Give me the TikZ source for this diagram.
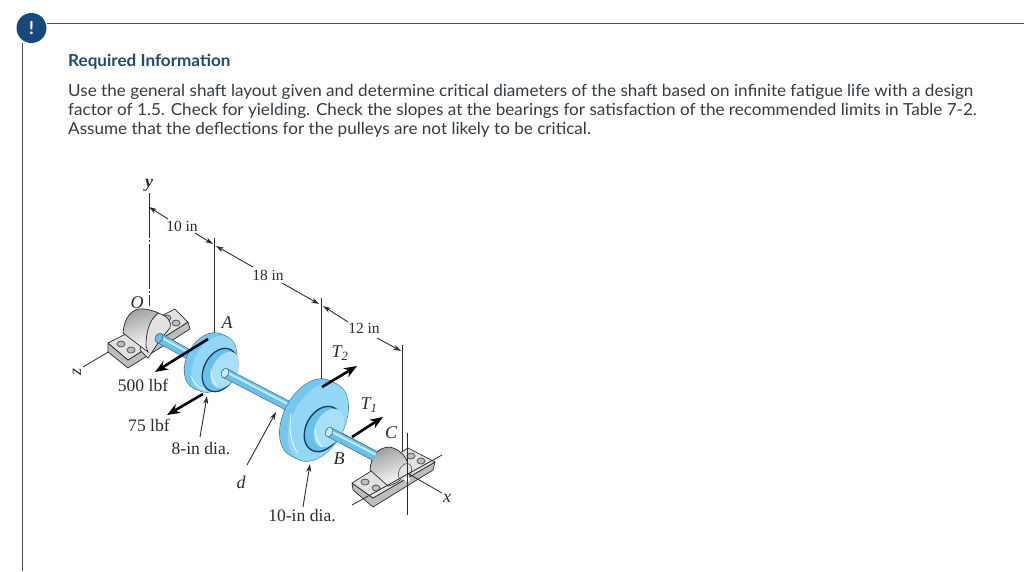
\documentclass[tikz,border=0pt]{standalone}
\usepackage{fontspec}
\setmainfont[FakeStretch=1.03]{Lato}
\newfontfamily\figfont{Liberation Serif}
\usetikzlibrary{arrows.meta}
\definecolor{navy}{HTML}{174A7C}
\definecolor{framec}{HTML}{34536F}
\definecolor{headc}{HTML}{1F4A78}
\definecolor{bodyc}{HTML}{333B42}
\definecolor{ink}{HTML}{2B2B2B}
\definecolor{sky}{HTML}{93D6F5}
\definecolor{skyd}{HTML}{66C2EC}
\definecolor{skyl}{HTML}{C4EBFA}
\definecolor{hubc}{HTML}{A9E0F8}
\definecolor{edge}{HTML}{3A6880}
\definecolor{hubedge}{HTML}{1E3F52}
\definecolor{plate}{HTML}{E2E2E2}
\definecolor{platef}{HTML}{BDBDBD}
\tikzset{
  x=1pt,y=-1pt,
  frameline/.style={framec,line width=1pt},
  bodytxt/.style={anchor=base west,inner sep=0pt,text=bodyc,font=\fontsize{16.6}{19}\selectfont},
  headtxt/.style={anchor=base west,inner sep=0pt,text=headc,font=\fontsize{16.6}{19}\selectfont\bfseries},
  figtxt/.style={inner sep=0pt,text=ink,font=\figfont\fontsize{15.5}{18}\selectfont},
  bigtxt/.style={inner sep=0pt,text=ink,font=\figfont\fontsize{17.6}{20}\selectfont},
  figit/.style={inner sep=0pt,text=ink,font=\figfont\itshape\fontsize{18}{20}\selectfont},
  dimline/.style={ink,line width=.8pt},
  dimarrow/.style={ink,line width=.9pt,-{Stealth[length=8pt,width=5pt]}},
  forcearrow/.style={black,line width=2.6pt,-{Stealth[length=13pt,width=10pt]}},
  holeline/.style={ink!80,line width=.8pt},
  platetop/.style={fill=plate,draw=ink,line width=.7pt,line join=round},
  plateside/.style={fill=platef,draw=ink,line width=.7pt,line join=round},
}
\newcommand{\shaftpiece}[2]{%
  \draw[edge,line width=10pt] #1 -- #2;
  \draw[skyd,line width=8.8pt] #1 -- #2;
  \draw[skyl,line width=2pt,shift={(.7,-1.3)}] #1 -- #2;}
\newcommand{\tilted}[5]{\path[#5,rotate around={62:(#1,#2)}] (#1,#2) ellipse [x radius=#3pt,y radius=#4pt];}
\newcommand{\thickdisc}[6]{%
  \foreach \t in {0,.1,...,1.01}{%
    \pgfmathsetmacro{\cx}{#1+\t*(#3-#1)}\pgfmathsetmacro{\cy}{#2+\t*(#4-#2)}%
    \tilted{\cx}{\cy}{#5}{#6}{draw=edge,line width=1.1pt}}
  \foreach \t in {0,.1,...,1.01}{%
    \pgfmathsetmacro{\cx}{#1+\t*(#3-#1)}\pgfmathsetmacro{\cy}{#2+\t*(#4-#2)}%
    \tilted{\cx}{\cy}{#5}{#6}{fill=skyd!70!sky}}
  \tilted{#3}{#4}{#5}{#6}{fill=sky}}
\begin{document}
\begin{tikzpicture}
\useasboundingbox (0,0) rectangle (1024,571);
\coordinate (frameR) at (1024,23.3);
\coordinate (frameB) at (22.3,571);
\node[circle,fill=navy,minimum size=30pt,inner sep=0pt,text=white,font=\fontsize{18}{18}\selectfont\bfseries] (badge) at (31.5,28) {!};
\draw[frameline] (badge.east |- frameR) -- (frameR);
\draw[frameline] (frameB |- badge.south) -- (frameB);
\node[headtxt] (head) at (68,66) {Required Information};
\node[bodytxt] (l1) at (68,96) {Use the general shaft layout given and determine critical diameters of the shaft based on infinite fatigue life with a design};
\node[bodytxt] (l2) at (68,115) {factor of 1.5. Check for yielding. Check the slopes at the bearings for satisfaction of the recommended limits in Table 7-2.};
\node[bodytxt] (l3) at (68,134) {Assume that the deflections for the pulleys are not likely to be critical.};
\node[figit] (ylab) at (149,185) {\bfseries y};
\node[figtxt] (d10) at (182,226) {10 in};
\node[figtxt] (d18) at (268,275) {18 in};
\node[figtxt] (d12) at (364,328) {12 in};
\node[figit] (olab) at (137,303) {O};
\node[figit] (alab) at (227,323) {A};
\node[figit] (t2lab) at (340,353) {T\textsubscript{2}};
\node[figit] (t1lab) at (369,405) {T\textsubscript{1}};
\node[figit] (clab) at (391,433) {C};
\node[figit] (blab) at (339,459) {B};
\node[figit,rotate=90] (zlab) at (77,372) {z};
\node[figit] (xlab) at (447,498) {x};
\node[figit] (dlab) at (241,482) {d};
\node[bigtxt] (f500) at (143,385) {500 lbf};
\node[bigtxt] (f75) at (149,425) {75 lbf};
\node[bigtxt] (dia8) at (201,449) {8-in dia.};
\node[bigtxt] (dia10) at (302,516) {10-in dia.};
\draw[dimline,dash pattern=on 45pt off 2pt on 2pt off 2pt] (149,193) -- (149,306);
\draw[dimline] (214,238) -- (214,332);
\draw[dimline] (321,298) -- (321,382);
\draw[dimline] (402,345) -- (402,452);
\draw[dimline] (83,367) -- (110,351);
\coordinate (t10a) at (149,207);
\coordinate (t10b) at (213,244);
\coordinate (t18a) at (216,246);
\coordinate (t18b) at (319,304);
\coordinate (t12a) at (323,306);
\coordinate (t12b) at (401,351);
\coordinate (s10a) at (168,219);
\coordinate (s10b) at (195,233);
\coordinate (s18a) at (253,267);
\coordinate (s18b) at (282,283);
\coordinate (s12a) at (348,322);
\coordinate (s12b) at (377,338);
\draw[dimarrow] (s10a) -- (t10a);
\draw[dimarrow] (s10b) -- (t10b);
\draw[dimarrow] (s18a) -- (t18a);
\draw[dimarrow] (s18b) -- (t18b);
\draw[dimarrow] (s12a) -- (t12a);
\draw[dimarrow] (s12b) -- (t12b);
% bearing O
\draw[plateside] (108,343) -- (108,352) -- (128,368) -- (190,329) -- (188,322) -- (128,360) -- cycle;
\draw[platetop] (108,343) -- (175,309) -- (188,322) -- (128,360) -- cycle;
\foreach \p in {(121,344),(131,350),(167,318),(176,323)}{\draw[holeline,fill=platef] \p ellipse [x radius=4pt,y radius=3pt];}
\path[draw=ink,line width=.7pt,fill=plate]
  (158,313) .. controls (168,316) and (172,322) .. (170,328) -- (160,340) -- (148,358) -- (140,350) -- (146,325) -- cycle;
\path[draw=ink,line width=.7pt,left color=gray!75,right color=white,shading angle=20]
  (123,333) .. controls (124,318) and (132,307) .. (144,309) .. controls (150,310) and (155,311) .. (158,313)
  .. controls (149,320) and (146,333) .. (146,346) -- (148,352) -- cycle;
\shaftpiece{(159,338)}{(210,366)}
\tilted{159}{338}{5}{3.6}{fill=skyd,draw=edge,line width=.6pt}
% pulley A
\thickdisc{207}{361}{214}{364}{30}{20}
\draw[white,line width=.7pt] (191,376) .. controls (194,384) and (199,388) .. (205,390);
\tilted{220}{370}{23}{16}{fill=skyd,draw=hubedge,line width=1.3pt}
\tilted{225}{370}{19.5}{12.5}{fill=hubc}
\draw[white,line width=.7pt] (211,369) .. controls (211,376) and (213,382) .. (217,386);
\shaftpiece{(225,373)}{(296,410)}
\tilted{225}{373}{5}{3.6}{fill=skyl,draw=edge,line width=.6pt}
% bearing C
\draw[plateside] (352,483) -- (353,490) -- (373,507) -- (433,470) -- (435,462) -- (373,498) -- cycle;
\draw[platetop] (352,483) -- (408,448) -- (435,462) -- (373,498) -- cycle;
\foreach \p in {(365,482),(376,488),(411,456),(421,461)}{\draw[holeline,fill=platef] \p ellipse [x radius=4pt,y radius=3pt];}
\shaftpiece{(332,433)}{(375,456)}
\path[draw=ink,line width=.7pt,left color=gray!75,right color=white,shading angle=20]
  (370,470) .. controls (371,456) and (378,447) .. (390,447) .. controls (402,450) and (409,460) .. (408,468)
  .. controls (406,476) and (399,483) .. (388,486) -- cycle;
\tilted{405}{472}{9}{6}{fill=plate,draw=ink!70,line width=.8pt}
\tilted{407}{479}{3}{3}{fill=white}
% pulley B
\thickdisc{310}{418}{318}{422}{42}{26}
\draw[white,line width=.7pt] (291,413) .. controls (288,430) and (292,446) .. (298,453);
\tilted{323}{429}{24}{17}{fill=skyd,draw=hubedge,line width=1.4pt}
\tilted{329}{428}{20.5}{13.5}{fill=hubc}
\draw[white,line width=.7pt] (315,428) .. controls (315,436) and (318,443) .. (322,447);
\shaftpiece{(329,432)}{(375,456)}
\tilted{329}{432}{5}{3.6}{fill=skyl,draw=edge,line width=.6pt}
% axes at C
\draw[dimline] (407,433) -- (407,515);
\draw[dimline] (407,473) -- (442,493);
\draw[dimline] (352,505) -- (442,455);
% forces
\coordinate (f500a) at (208,339);
\coordinate (f500b) at (155,372);
\coordinate (f75a) at (203,394);
\coordinate (f75b) at (167,415);
\coordinate (t2a) at (322,387);
\coordinate (t2b) at (357,366);
\coordinate (t1a) at (352,437);
\coordinate (t1b) at (383,417);
\draw[forcearrow] (f500a) -- (f500b);
\draw[forcearrow] (f75a) -- (f75b);
\draw[forcearrow] (t2a) -- (t2b);
\draw[forcearrow] (t1a) -- (t1b);
% leaders
\coordinate (l8) at (207,396);
\coordinate (ld) at (276,412);
\coordinate (l10) at (310,464);
\coordinate (s8) at (200,437);
\coordinate (sd) at (247,465);
\coordinate (s10) at (303,507);
\draw[dimarrow] (s8) -- (l8);
\draw[dimarrow] (sd) -- (ld);
\draw[dimarrow] (s10) -- (l10);
\end{tikzpicture}
\end{document}
